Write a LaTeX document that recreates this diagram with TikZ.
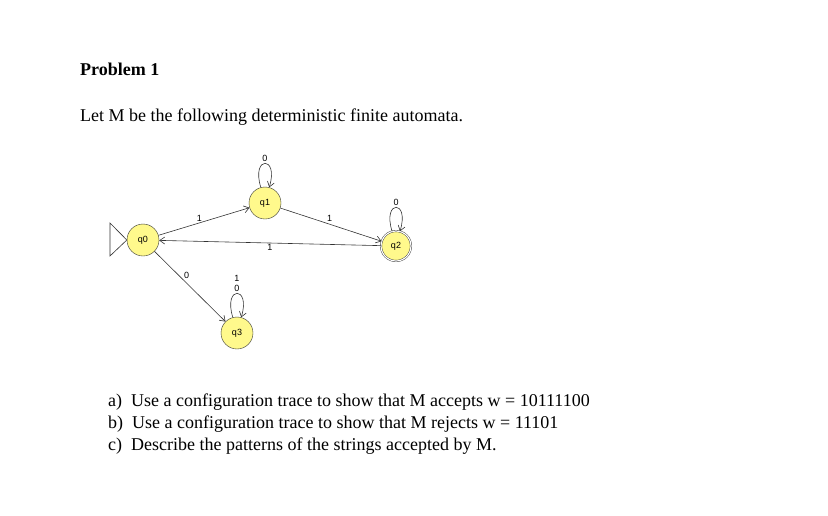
\documentclass[tikz,border=0pt]{standalone}
\usepackage{fontspec}
\setmainfont{Liberation Serif}
\newfontfamily\lab{Liberation Sans}
\usetikzlibrary{arrows.meta}
\begin{document}
\begin{tikzpicture}[x=1pt,y=-1pt,
  st/.style={circle,draw=black!80,fill=yellow!45,minimum size=32pt,inner sep=0pt,font=\lab\fontsize{9}{10}\selectfont},
  acc/.style={st,double,double distance=1.2pt,minimum size=30pt},
  tr/.style={draw=black!80,line width=0.6pt,-{Straight Barb[length=5pt,width=7pt]}},
  lb/.style={font=\lab\fontsize{9}{10}\selectfont,inner sep=1pt},
  tx/.style={anchor=base west,inner sep=0pt,font=\fontsize{18}{21}\selectfont}]
\useasboundingbox (0,0) rectangle (828,515);
\node[tx,font=\bfseries\fontsize{18}{21}\selectfont] (t1) at (80,75) {Problem 1};
\node[tx] (t2) at (80,121) {Let M be the following deterministic finite automata.};
\node[st] (q0) at (143,240) {q0};
\node[st] (q1) at (265,203) {q1};
\node[acc] (q2) at (396,246) {q2};
\node[st] (q3) at (237,333) {q3};
\coordinate (s1) at (110,223); \coordinate (s2) at (110,256);
\draw[draw=black!80,line width=0.6pt] (s1) -- (q0.west) -- (s2) -- cycle;
\draw[tr] (q0) -- node[lb,above,pos=0.45] {1} (q1);
\draw[tr] (q1) -- node[lb,above right,pos=0.45] {1} (q2);
\draw[tr] (q2) -- node[lb,below,pos=0.5] {1} (q0);
\draw[tr] (q0) -- node[lb,above right,pos=0.4] {0} (q3);
\draw[tr] (q1.105) .. controls +(-10,-32) and +(10,-32) .. node[lb,above] {0} (q1.75);
\draw[tr] (q2.105) .. controls +(-10,-32) and +(10,-32) .. node[lb,above] {0} (q2.75);
\draw[tr] (q3.105) .. controls +(-10,-32) and +(10,-32) .. node[lb,above,align=center] {1\\0} (q3.75);
\node[tx] (a) at (108,406) {a)\hspace{9pt}Use a configuration trace to show that M accepts w = 10111100};
\node[tx] (b) at (108,428) {b)\hspace{9pt}Use a configuration trace to show that M rejects w = 11101};
\node[tx] (c) at (108,450) {c)\hspace{9pt}Describe the patterns of the strings accepted by M.};
\end{tikzpicture}
\end{document}
